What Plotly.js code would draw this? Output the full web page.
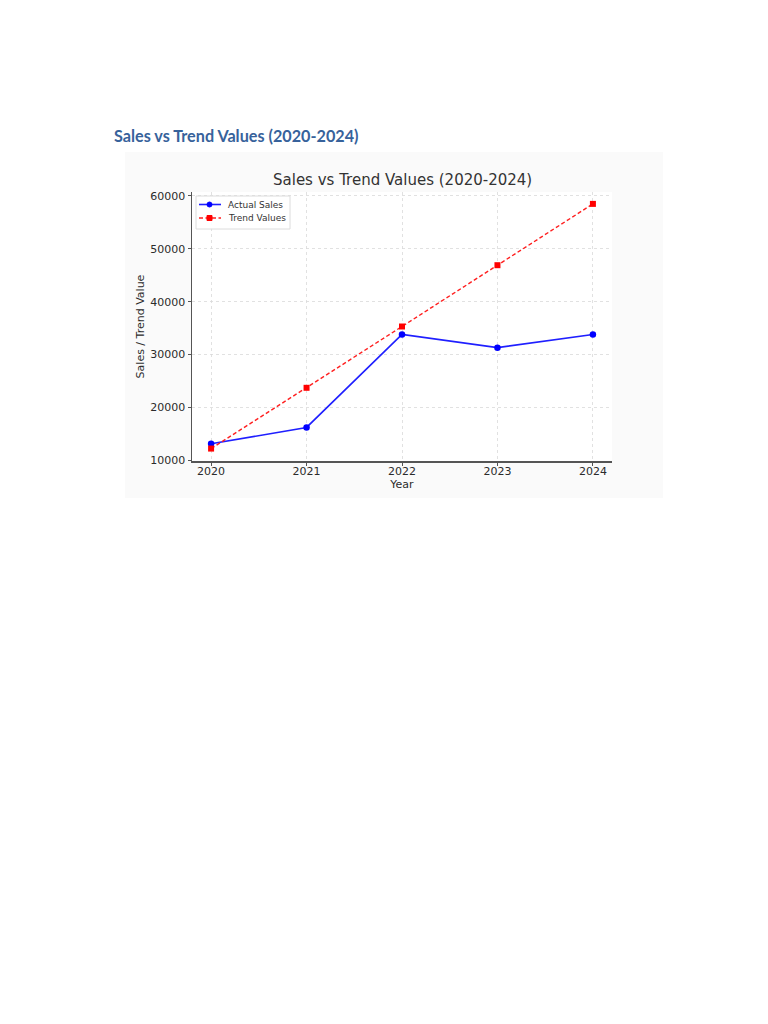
<!DOCTYPE html>
<html>
<head>
<meta charset="utf-8">
<script src="https://cdn.plot.ly/plotly-3.0.1.min.js"></script>
<style>
  html, body { margin: 0; padding: 0; background: #ffffff; }
  #chart { width: 768px; height: 1024px; }
</style>
</head>
<body>
<div id="chart"></div>
<script>
const years = [2020, 2021, 2022, 2023, 2024];
const actualSales = [13100, 16200, 33800, 31300, 33800];
const trendValues = [12200, 23700, 35300, 46900, 58500];
const yTicks = [10000, 20000, 30000, 40000, 50000, 60000];
const seriesNames = ['Actual Sales', 'Trend Values'];

const W = 768, H = 1024;
const px = v => v / W;
const py = v => 1 - v / H;

const FONT = 'DejaVu Sans, sans-serif';
const tickFont = { family: FONT, size: 11, color: '#2b2b2b' };
const blue = '#1f1fff', red = '#ff1f1f';

const traces = [
  {
    x: years, y: actualSales, name: seriesNames[0], type: 'scatter', mode: 'lines+markers',
    line: { color: blue, width: 1.6 },
    marker: { color: '#0000ff', size: 6.5, symbol: 'circle' }
  },
  {
    x: years, y: trendValues, name: seriesNames[1], type: 'scatter', mode: 'lines+markers',
    line: { color: red, width: 1.4, dash: '4px,2.5px' },
    marker: { color: '#ff0000', size: 6, symbol: 'square' }
  }
];

// legend (drawn as decoration in paper coordinates)
const legY = [204.5, 218];
const legendShapes = [
  { type: 'rect', xref: 'paper', yref: 'paper', x0: px(196), x1: px(290), y0: py(229), y1: py(196),
    fillcolor: 'rgba(255,255,255,0.9)', line: { color: '#dcdcdc', width: 1 } },
  { type: 'line', xref: 'paper', yref: 'paper', x0: px(199), x1: px(221), y0: py(legY[0]), y1: py(legY[0]),
    line: { color: blue, width: 1.6 } },
  { type: 'circle', xref: 'paper', yref: 'paper', x0: px(207), x1: px(212), y0: py(legY[0] + 2.5), y1: py(legY[0] - 2.5),
    fillcolor: '#0000ff', line: { color: '#0000ff', width: 1 } },
  { type: 'line', xref: 'paper', yref: 'paper', x0: px(199), x1: px(221), y0: py(legY[1]), y1: py(legY[1]),
    line: { color: red, width: 1.4, dash: '4px,2.5px' } },
  { type: 'rect', xref: 'paper', yref: 'paper', x0: px(207), x1: px(212), y0: py(legY[1] + 2.5), y1: py(legY[1] - 2.5),
    fillcolor: '#ff0000', line: { color: '#ff0000', width: 1 } }
];
const legendAnns = seriesNames.map((n, i) => ({
  text: n, xref: 'paper', yref: 'paper', x: px(226), y: py(legY[i]),
  xanchor: 'left', yanchor: 'middle', showarrow: false,
  font: { family: FONT, size: 9, color: '#333333' }
}));

const layout = {
  width: W, height: H,
  margin: { l: 0, r: 0, t: 0, b: 0 },
  paper_bgcolor: '#ffffff',
  plot_bgcolor: 'rgba(0,0,0,0)',
  showlegend: false,
  xaxis: {
    domain: [px(192), px(612)],
    range: [2019.8, 2024.2],
    tickmode: 'array', tickvals: years, ticktext: years.map(String),
    showline: true, linecolor: '#555555', linewidth: 1.5,
    ticks: 'outside', ticklen: 3, tickcolor: '#555555', tickwidth: 1,
    ticklabelstandoff: -4,
    showgrid: true, gridcolor: '#dadada', gridwidth: 0.8, griddash: 'dot',
    zeroline: false, tickfont: tickFont,
    title: { text: 'Year', font: { family: FONT, size: 11, color: '#2b2b2b' }, standoff: 1 }
  },
  yaxis: {
    domain: [py(461), py(192)],
    range: [9850, 60750],
    tickmode: 'array', tickvals: yTicks, ticktext: yTicks.map(String),
    showline: true, linecolor: '#555555', linewidth: 1.5,
    ticks: 'outside', ticklen: 3, tickcolor: '#555555', tickwidth: 1,
    showgrid: true, gridcolor: '#dadada', gridwidth: 0.8, griddash: 'dot',
    zeroline: false, tickfont: tickFont,
    title: { text: 'Sales / Trend Value', font: { family: FONT, size: 11, color: '#2b2b2b' }, standoff: 3 }
  },
  shapes: [
    {
      type: 'rect', xref: 'paper', yref: 'paper', layer: 'below',
      x0: px(125), x1: px(663), y0: py(498), y1: py(152),
      fillcolor: '#fafafa', line: { width: 0 }
    },
    {
      type: 'rect', xref: 'x domain', yref: 'y domain', layer: 'below',
      x0: 0, x1: 1, y0: 0, y1: 1,
      fillcolor: '#ffffff', line: { width: 0 }
    }
  ].concat(legendShapes),
  annotations: [
    {
      text: '<b>Sales vs Trend Values (2020-2024)</b>',
      xref: 'paper', yref: 'paper', x: px(112), y: py(135),
      xanchor: 'left', yanchor: 'middle', showarrow: false,
      font: { family: 'Lato, sans-serif', size: 16.2, color: '#37629b' }
    },
    {
      text: 'Sales vs Trend Values (2020-2024)',
      xref: 'paper', yref: 'paper', x: px(402), y: py(180),
      xanchor: 'center', yanchor: 'middle', showarrow: false,
      font: { family: FONT, size: 15, color: '#333333' }
    }
  ].concat(legendAnns)
};

Plotly.newPlot('chart', traces, layout, { staticPlot: true, displayModeBar: false });
</script>
</body>
</html>
